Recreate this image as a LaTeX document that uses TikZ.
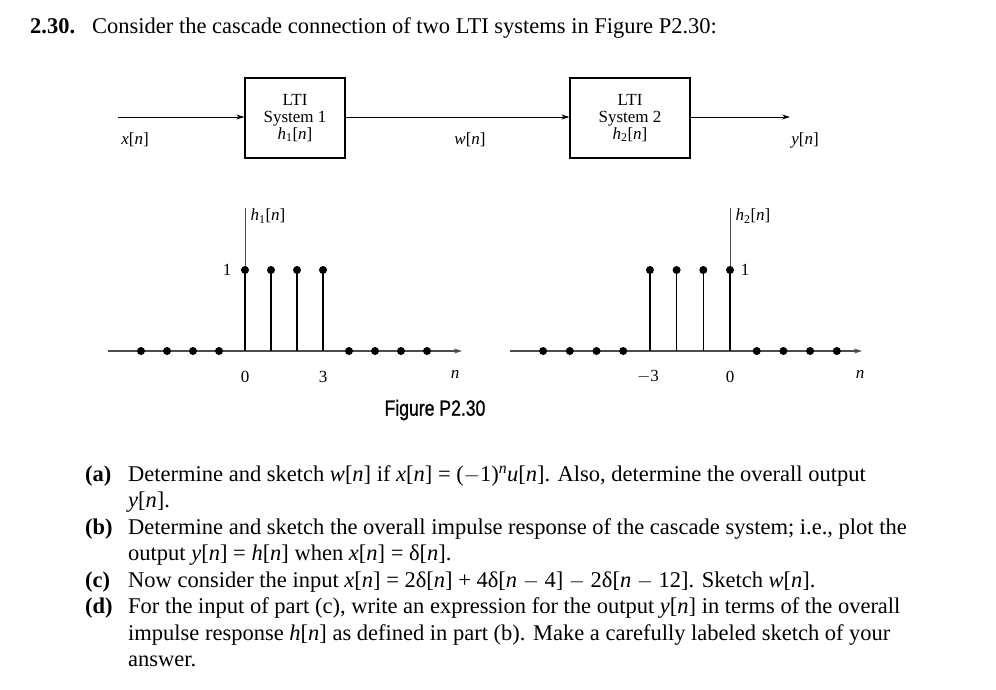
\documentclass[tikz,border=0pt]{standalone}
\usepackage{fontspec}
\setmainfont{Liberation Serif}
\newfontfamily\figfont{Liberation Sans}[FakeStretch=0.8,FakeBold=1]
\usetikzlibrary{arrows.meta}
\newcommand{\iv}[1]{\textit{#1}}
\begin{document}
\begin{tikzpicture}[x=1pt,y=-1pt,
 txt/.style={anchor=base west,inner sep=0pt,font=\fontsize{22.5}{26}\selectfont},
 lab/.style={anchor=base west,inner sep=0pt,font=\fontsize{22.5}{26}\selectfont\bfseries},
 sm/.style={inner sep=0pt,font=\fontsize{17}{18}\selectfont},
 blk/.style={draw,line width=1.2pt,minimum width=100pt,minimum height=80pt,align=center,font=\fontsize{17}{17}\selectfont,inner sep=0pt},
 arr/.style={-{Stealth[length=8pt,width=5pt]},line width=0.9pt},
 ax/.style={-{Stealth[length=8pt,width=5pt]},line width=1.2pt,gray!60!black},
 dot/.style={circle,fill,inner sep=0pt,minimum size=8pt},
 stem/.style={line width=1.2pt}]
\useasboundingbox (0,0) rectangle (996,690);
\node[lab] (t0) at (30,34) {2.30.};
\node[txt] (t1) at (92,34) {Consider the cascade connection of two LTI systems in Figure P2.30:};
% block diagram
\coordinate (in) at (118,117);
\node[blk] (b1) at (295,118) {LTI\\System 1\\\iv{h}\textsubscript{1}[\iv{n}]};
\node[blk,minimum width=120pt] (b2) at (630,118) {LTI\\System 2\\\iv{h}\textsubscript{2}[\iv{n}]};
\coordinate (out) at (790,117);
\draw[arr] (in) -- (in -| b1.west);
\draw[arr] (b1.east |- 0,117) -- (b2.west |- 0,117);
\draw[arr] (b2.east |- 0,117) -- (out);
\node[sm] (lx) at (135,140) {\iv{x}[\iv{n}]};
\node[sm] (lw) at (470,140) {\iv{w}[\iv{n}]};
\node[sm] (ly) at (805,140) {\iv{y}[\iv{n}]};
% plot 1
\coordinate (a1s) at (108,351); \coordinate (a1e) at (462,351);
\draw[ax] (a1s) -- (a1e);
\coordinate (v1b) at (245,351); \coordinate (v1t) at (245,208);
\draw[line width=0.6pt,gray!60!black] (v1b) -- (v1t);
\foreach \k in {-4,-3,-2,-1,4,5,6,7} \node[dot] (p1\k) at ({245+26*\k},351) {};
\foreach \k in {0,1,2,3} {\node[dot] (q1\k) at ({245+26*\k},270) {}; \draw[stem] (q1\k.center) -- ({245+26*\k},351);}
\node[sm] (h1l) at (268,216) {\iv{h}\textsubscript{1}[\iv{n}]};
\node[sm] (one1) at (227,270) {1};
\node[sm] (z1) at (245,377) {0};
\node[sm] (th1) at (323,377) {3};
\node[sm] (n1) at (455,374) {\iv{n}};
% plot 2
\coordinate (a2s) at (510,351); \coordinate (a2e) at (862,351);
\draw[ax] (a2s) -- (a2e);
\coordinate (v2b) at (730,351); \coordinate (v2t) at (730,208);
\draw[line width=0.6pt,gray!60!black] (v2b) -- (v2t);
\foreach \k in {-7,-6,-5,-4,1,2,3,4} \node[dot] (p2\k) at ({730+26.7*\k},351) {};
\foreach \k in {-3,-2,-1,0} {\node[dot] (q2\k) at ({730+26.7*\k},270) {}; \draw[stem] (q2\k.center) -- ({730+26.7*\k},351);}
\node[sm] (h2l) at (753,216) {\iv{h}\textsubscript{2}[\iv{n}]};
\node[sm] (one2) at (745,270) {1};
\node[sm] (m3) at (648,377) {$-$3};
\node[sm] (z2) at (730,377) {0};
\node[sm] (n2) at (860,374) {\iv{n}};
\node[inner sep=0pt,font=\figfont\fontsize{22}{24}\selectfont] (fig) at (435,410) {Figure P2.30};
% questions
\node[lab] (la) at (85,481) {(a)};
\node[txt] (ta) at (128,481) {Determine and sketch \iv{w}[\iv{n}] if \iv{x}[\iv{n}] = ($-$1)\textsuperscript{\iv{n}}\iv{u}[\iv{n}]. Also, determine the overall output};
\node[txt] (ta2) at (128,507) {\iv{y}[\iv{n}].};
\node[lab] (lb) at (85,534) {(b)};
\node[txt] (tb) at (128,534) {Determine and sketch the overall impulse response of the cascade system; i.e., plot the};
\node[txt] (tb2) at (128,560) {output \iv{y}[\iv{n}] = \iv{h}[\iv{n}] when \iv{x}[\iv{n}] = δ[\iv{n}].};
\node[lab] (lc) at (85,587) {(c)};
\node[txt] (tc) at (128,587) {Now consider the input \iv{x}[\iv{n}] = 2δ[\iv{n}] + 4δ[\iv{n} $-$ 4] $-$ 2δ[\iv{n} $-$ 12]. Sketch \iv{w}[\iv{n}].};
\node[lab] (ld) at (85,613) {(d)};
\node[txt] (td) at (128,613) {For the input of part (c), write an expression for the output \iv{y}[\iv{n}] in terms of the overall};
\node[txt] (td2) at (128,640) {impulse response \iv{h}[\iv{n}] as defined in part (b). Make a carefully labeled sketch of your};
\node[txt] (td3) at (128,666) {answer.};
\end{tikzpicture}
\end{document}
